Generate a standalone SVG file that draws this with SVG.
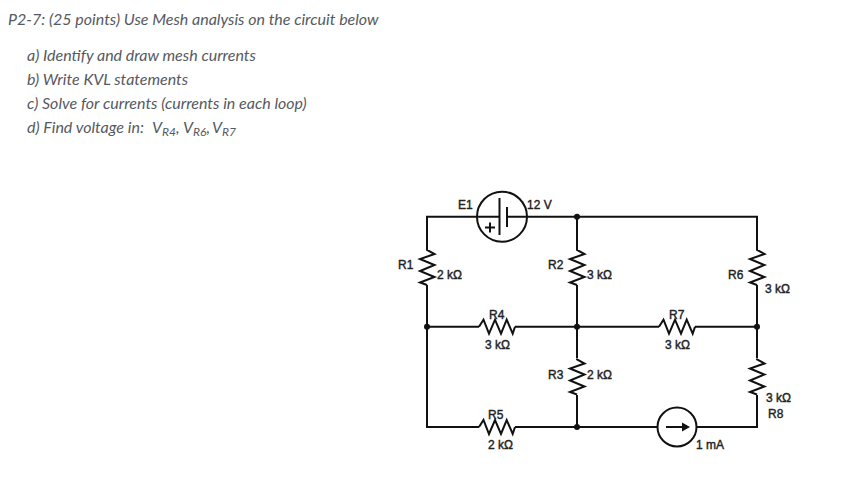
<svg xmlns="http://www.w3.org/2000/svg" width="866" height="504" viewBox="0 0 866 504">
<defs>
<style>
.h{font-family:Lato,"Liberation Sans",sans-serif;font-style:italic;font-size:16px;fill:#555a5f}
.s{font-size:12px}
.l{font-family:"Liberation Sans",Arial,sans-serif;font-size:12px;fill:#222;stroke:#222;stroke-width:.4}
.w{fill:none;stroke:#111;stroke-width:2}
.d{fill:#111}
</style>
<path id="rv" class="w" d="M0,-18 V-17 L7.500,-13 L-7,-8 L7.500,-2 L-7,4 L7.500,10 L-7,15.500 L0,18"/>
<path id="rh" class="w" d="M-18,0 L-13.500,-7 L-8,7 L-2,-7 L4,7 L9.700,-7 L15.700,7 L18,0"/>
</defs>
<rect width="866" height="504" fill="#fff"/>
<g id="problem-text">
<text class="h" x="8" y="25">P2-7: (25 points) Use Mesh analysis on the circuit below</text>
<text class="h" x="27" y="61">a) Identify and draw mesh currents</text>
<text class="h" x="27" y="85">b) Write KVL statements</text>
<text class="h" x="27" y="109">c) Solve for currents (currents in each loop)</text>
<text class="h" x="27" y="133">d) Find voltage in:</text>
<text class="h" x="152" y="133">V<tspan class="s" dy="3">R4</tspan><tspan dy="-3">,</tspan></text>
<text class="h" x="183" y="133">V<tspan class="s" dy="3">R6</tspan><tspan dy="-3">,</tspan></text>
<text class="h" x="212" y="133">V<tspan class="s" dy="3">R7</tspan></text>
</g>
<g id="connectors">
<path class="w" d="M477,216.700 H427 V249 M427,285 V427 H479 M515,427 H657.500 M696.500,427 H757 V395 M757,358 V285 M757,249 V216.700 H527 M577,216.700 V249 M577,285 V358 M577,395 V427 M427,326.700 H479 M515,326.700 H659 M695,326.700 H757"/>
</g>
<g id="J1"><circle class="d" cx="577" cy="216.700" r="3"/></g>
<g id="J2"><circle class="d" cx="427" cy="326.700" r="3"/></g>
<g id="J3"><circle class="d" cx="577" cy="326.700" r="3"/></g>
<g id="J4"><circle class="d" cx="757" cy="326.700" r="3"/></g>
<g id="J5"><circle class="d" cx="577" cy="427" r="3"/></g>
<g id="E1">
<circle class="w" cx="502" cy="216.700" r="25"/>
<path class="w" d="M499.500,198 V235 M507,207 V227 M485,227.500 H495 M490,222.500 V232.500"/>
<path class="w" d="M477,216.700 H499.500 M507,216.700 H527"/>
<text class="l" x="458" y="209">E1</text>
<text class="l" x="527" y="209">12 V</text>
</g>
<g id="R1"><use href="#rv" x="427" y="267"/><text class="l" x="398" y="269">R1</text><text class="l" x="437" y="279">2 kΩ</text></g>
<g id="R2"><use href="#rv" x="577" y="267"/><text class="l" x="548" y="269">R2</text><text class="l" x="587" y="279">3 kΩ</text></g>
<g id="R3"><use href="#rv" x="577" y="376.500"/><text class="l" x="548" y="379">R3</text><text class="l" x="587" y="379">2 kΩ</text></g>
<g id="R4"><use href="#rh" x="497" y="326.700"/><text class="l" x="489" y="319">R4</text><text class="l" x="485" y="349">3 kΩ</text></g>
<g id="R5"><use href="#rh" x="497" y="427"/><text class="l" x="488" y="419">R5</text><text class="l" x="488" y="449">2 kΩ</text></g>
<g id="R6"><use href="#rv" x="757" y="267"/><text class="l" x="728" y="279">R6</text><text class="l" x="765" y="293">3 kΩ</text></g>
<g id="R7"><use href="#rh" x="677" y="326.700"/><text class="l" x="669" y="319">R7</text><text class="l" x="665" y="349">3 kΩ</text></g>
<g id="R8"><use href="#rv" x="757" y="376.500"/><text class="l" x="766" y="402">3 kΩ</text><text class="l" x="768" y="418">R8</text></g>
<g id="I1">
<circle class="w" cx="677" cy="427" r="19.500"/>
<path class="w" d="M666,427 H686"/>
<path class="d" d="M690,427 L682,422.500 V431.500 Z"/>
<text class="l" x="696" y="449">1 mA</text>
</g>
</svg>
